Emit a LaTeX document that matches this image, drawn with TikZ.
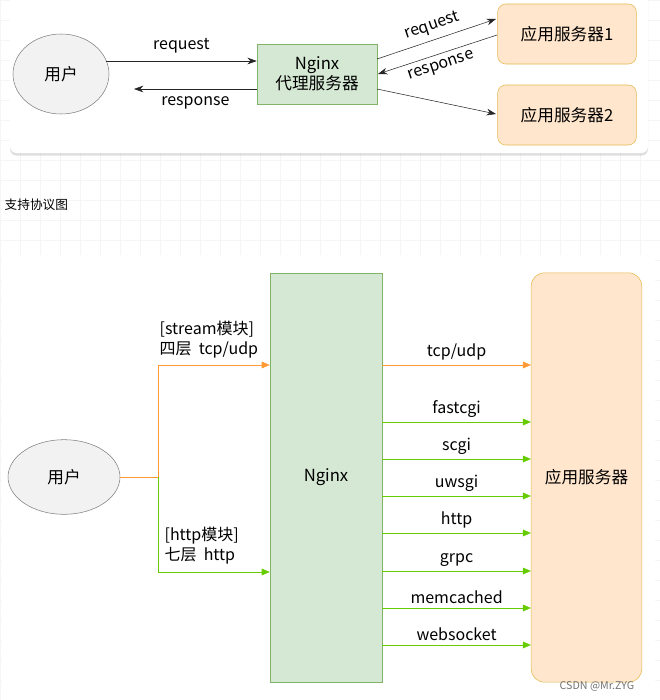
\documentclass[tikz,border=0pt]{standalone}
\usepackage{fontspec}
\setmainfont{Noto Sans CJK SC}
\usetikzlibrary{arrows.meta,shapes.geometric,shadows}
\definecolor{gfill}{HTML}{D5E8D4}\definecolor{gline}{HTML}{82B366}
\definecolor{ofill}{HTML}{FFE6CC}\definecolor{oline}{HTML}{D79B00}
\definecolor{orar}{HTML}{FF9933}\definecolor{grar}{HTML}{66CC00}
\begin{document}
\begin{tikzpicture}[x=0.75pt,y=-0.75pt,font=\fontsize{12.5}{15}\selectfont,
 user/.style={ellipse,draw=black!50,fill=black!5,inner sep=0},
 ng/.style={draw=gline,fill=gfill,align=center,inner sep=0},
 srv/.style={draw=oline!70,fill=ofill,rounded corners=6pt,inner sep=0},
 blk/.style={-{Stealth[length=7pt,width=5pt]},black!85},
 oa/.style={-{Triangle[length=6pt,width=5pt]},orar},
 ga/.style={-{Triangle[length=6pt,width=5pt]},grar},
 lab/.style={font=\fontsize{12}{15}\selectfont,text=black}]
\useasboundingbox (0,0) rectangle (660,700);
\fill[white] (0,0) rectangle (660,700);
\draw[black!4] foreach \x in {0,20,...,660}{(\x,0)--(\x,700)} foreach \y in {0,20,...,700}{(0,\y)--(660,\y)};
% top panel
\fill[white,rounded corners=5pt,drop shadow={opacity=0.25,shadow xshift=0pt,shadow yshift=-2pt}] (10,-10) rectangle (648,153);
\node[user,minimum width=72pt,minimum height=60pt] (u1) at (61,74) {用户};
\node[ng,minimum width=90pt,minimum height=45pt] (n1) at (317,74) {Nginx\\代理服务器};
\node[srv,minimum width=104pt,minimum height=45pt] (s1) at (567,34) {应用服务器1};
\node[srv,minimum width=104pt,minimum height=45pt] (s2) at (567,115) {应用服务器2};
\draw[blk] (106,61) -- (n1.west|-0,61) node[midway,above=2pt,lab] {request};
\draw[blk] (n1.west|-0,89) -- (134,89) node[midway,below=2pt,lab] {response};
\draw[blk] (377,59) -- (496,19) node[midway,above=1pt,sloped,lab] {request};
\draw[blk] (497,35) -- (378,74) node[midway,below=1pt,sloped,lab] {response};
\draw[blk] (377,89) -- (496,114);
\node[anchor=west,font=\fontsize{9.5}{12}\selectfont] (t) at (0,205) {支持协议图};
% bottom panel
\fill[white] (2,255) rectangle (655,700);
\node[ng,minimum width=84pt,minimum height=307pt] (n2) at (326,477.5) {Nginx};
\node[srv,minimum width=83pt,minimum height=307pt,rounded corners=10pt] (s3) at (586.5,477.5) {应用服务器};
\node[user,minimum width=84pt,minimum height=56pt] (u2) at (64,477) {用户};
\coordinate (j) at (158,477);
\draw[orar] (u2.east) -- (j);
\draw[oa] (j) -- (158,365) -- (n2.west|-0,365);
\draw[ga] (j) -- (158,572) -- (n2.west|-0,572);
\node[lab,anchor=south west,align=left,inner sep=1pt] (l1) at (158,360) {[stream模块]\\四层\ \ tcp/udp};
\node[lab,anchor=south west,align=left,inner sep=1pt] (l2) at (163,566) {[http模块]\\七层\ \ http};
\draw[oa] (n2.east|-0,365) -- (s3.west|-0,365) node[midway,above,lab] {tcp/udp};
\foreach \y/\t in {422/fastcgi,459/scgi,496/uwsgi,533/http,571/grpc,608/memcached,645/websocket}
 \draw[ga] (n2.east|-0,\y) -- (s3.west|-0,\y) node[midway,above,lab] {\t};
\node[font=\fontsize{8}{10}\selectfont,text=black!55] (c) at (597,686) {CSDN @Mr.ZYG};
\end{tikzpicture}
\end{document}
